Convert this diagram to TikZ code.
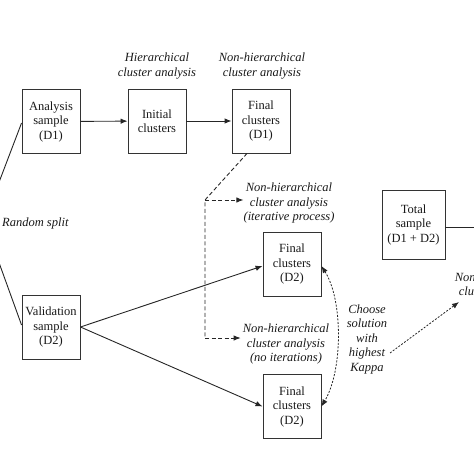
\documentclass[tikz,border=0pt]{standalone}
\usepackage{fontspec}
\setmainfont{Liberation Serif}
\usetikzlibrary{arrows.meta}
\begin{document}
\begin{tikzpicture}[x=1pt,y=-1pt,
  every node/.style={font=\fontsize{12.5}{14.5}\selectfont, text=black!90},
  box/.style={draw=black!80, line width=0.9pt, minimum width=58pt, minimum height=64pt, inner sep=1pt, align=center},
  lbl/.style={font=\fontsize{12.5}{14.5}\selectfont\itshape, align=center, inner sep=0pt},
  conn/.style={draw=black!85, line width=0.9pt},
  arr/.style={conn, -{Latex[length=7pt,width=5.5pt]}},
  dasharr/.style={conn, dash pattern=on 4pt off 2.5pt, -{Latex[length=7pt,width=5.5pt]}},
  dotarr/.style={conn, line width=0.8pt, dash pattern=on 2pt off 1.5pt}]
\useasboundingbox (0,0) rectangle (474,474);
\clip (0,0) rectangle (474,474);

% boxes
\node[box] (A) at (51,121.5) {Analysis\\sample\\(D1)};
\node[box] (I) at (157,121) {Initial\\clusters};
\node[box] (F1) at (261,121) {Final\\clusters\\(D1)};
\node[box] (V) at (51,327) {Validation\\sample\\(D2)};
\node[box] (F2a) at (292,264) {Final\\clusters\\(D2)};
\node[box] (F2b) at (292,406.5) {Final\\clusters\\(D2)};
\node[box, minimum width=63pt, minimum height=69pt] (T) at (413.5,224.5) {Total\\sample\\(D1 + D2)};

% labels
\node[lbl] (h1) at (157,66) {Hierarchical\\cluster analysis};
\node[lbl] (h2) at (262,66) {Non-hierarchical\\cluster analysis};
\node[lbl, anchor=west] (rs) at (2,223) {Random split};
\node[lbl] (tx1) at (289,203) {Non-hierarchical\\cluster analysis\\(iterative process)};
\node[lbl] (tx2) at (286,344) {Non-hierarchical\\cluster analysis\\(no iterations)};
\node[lbl] (tx3) at (367,339) {Choose\\solution\\with\\highest\\Kappa};
\node[lbl] (tx4) at (498,285.5) {Non-hierarchical\\cluster analysis};

% random split lines
\coordinate (L1) at (-10,205.9);
\coordinate (L2) at (-10,237.7);
\draw[conn] (L1) -- ([yshift=-1.5pt]A.west);
\draw[conn] (L2) -- ([yshift=2pt]V.west);

% main arrows
\draw[arr] (A) -- (I);
\draw[arr] (I) -- (F1);
\draw[arr] (V.east) -- ([yshift=-2pt]F2a.west);
\draw[arr] (V.east) -- (F2b.west);

% dashed branch
\coordinate (c1) at (205,200);
\coordinate (c2) at (205,338);
\draw[conn, dash pattern=on 4pt off 2.5pt] ([xshift=-14pt]F1.south) -- (c1) -- (c2);
\draw[dasharr] (c1) -- (c1 -| tx1.west);
\draw[dasharr] (c2) -- ([xshift=-2pt]c2 -| tx2.west);

% choose curve
\draw[dotarr, {Latex[length=7pt,width=5.5pt]}-{Latex[length=7pt,width=5.5pt]}] ([yshift=-2pt]F2a.east) .. controls (343,300) and (343,370) .. (F2b.east);

% kappa arrow
\coordinate (k1) at (390,353);
\coordinate (k2) at (459,302);
\draw[dotarr, -{Latex[length=7pt,width=5.5pt]}] (k1) -- (k2);

% total sample line
\coordinate (tr) at (480,227);
\draw[conn] ([yshift=-2.5pt]T.east) -- (tr);
\end{tikzpicture}
\end{document}
